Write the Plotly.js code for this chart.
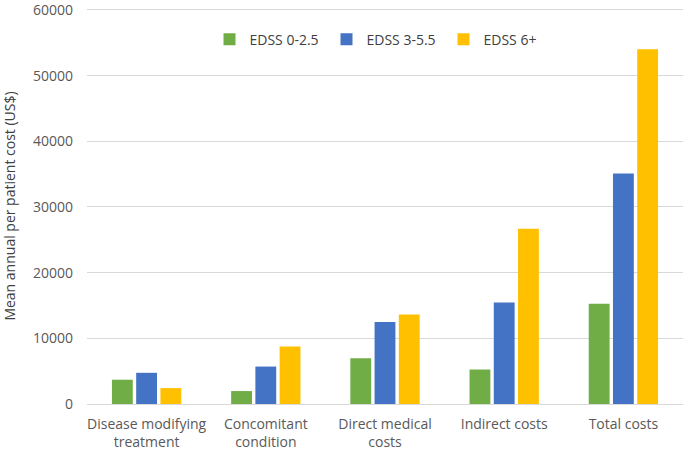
<!DOCTYPE html>
<html>
<head>
<meta charset="utf-8">
<script src="https://cdn.plot.ly/plotly-3.0.1.min.js"></script>
<style>
  html, body { margin: 0; padding: 0; background: #ffffff; }
  #chart { width: 685px; height: 451px; }
</style>
</head>
<body>
<div id="chart"></div>
<script>
// categories and series
const categories = ['Disease modifying<br>treatment', 'Concomitant<br>condition', 'Direct medical<br>costs', 'Indirect costs', 'Total costs'];
const seriesNames = ['EDSS 0-2.5', 'EDSS 3-5.5', 'EDSS 6+'];
const edssLow = [3700, 1970, 6970, 5250, 15250];
const edssMid = [4750, 5700, 12470, 15450, 35100];
const edssHigh = [2420, 8740, 13640, 26670, 54000];
const seriesColors = ['#70ad47', '#4472c4', '#ffc000'];
const yTicks = [0, 10000, 20000, 30000, 40000, 50000, 60000];

const font = 'Open Sans, Liberation Sans, sans-serif';
const data = [edssLow, edssMid, edssHigh].map((vals, i) => ({
    type: 'bar',
    name: seriesNames[i],
    x: categories,
    y: vals,
    marker: { color: seriesColors[i] },
    hoverinfo: 'skip',
}));

const layout = {
    width: 685,
    height: 451,
    // a little headroom above 60000 so plotly keeps the top gridline
    margin: { t: 8, b: 47, l: 87, r: 2 },
    paper_bgcolor: '#ffffff',
    plot_bgcolor: '#ffffff',
    font: { family: font, size: 14, color: '#595959' },
    barmode: 'group',
    bargap: 0.39,
    bargroupgap: 0.14,
    showlegend: true,
    legend: {
        orientation: 'h',
        x: 0.5,
        xanchor: 'center',
        y: 0.92,
        yanchor: 'middle',
        font: { family: font, size: 14, color: '#404040' },
        bgcolor: 'rgba(0,0,0,0)',
        entrywidth: 72,
        traceorder: 'normal',
    },
    xaxis: {
        tickfont: { family: font, size: 14, color: '#595959' },
        showline: false,
        ticks: '',
        ticklabelstandoff: 10,
        fixedrange: true,
    },
    yaxis: {
        title: { text: 'Mean annual per patient cost (US$)', font: { family: font, size: 14, color: '#404040' }, standoff: 14 },
        range: [0, 60300],
        tickvals: yTicks,
        ticktext: yTicks.map(String),
        tickfont: { family: font, size: 14, color: '#595959' },
        ticklabelstandoff: 13,
        ticklabeloverflow: 'allow',
        gridcolor: '#d9d9d9',
        gridwidth: 1,
        zeroline: true,
        zerolinecolor: '#d9d9d9',
        showline: false,
        ticks: '',
        ticklen: 0,
        fixedrange: true,
        automargin: false,
    },
};

Plotly.newPlot('chart', data, layout, { displayModeBar: false, staticPlot: true });
</script>
</body>
</html>
